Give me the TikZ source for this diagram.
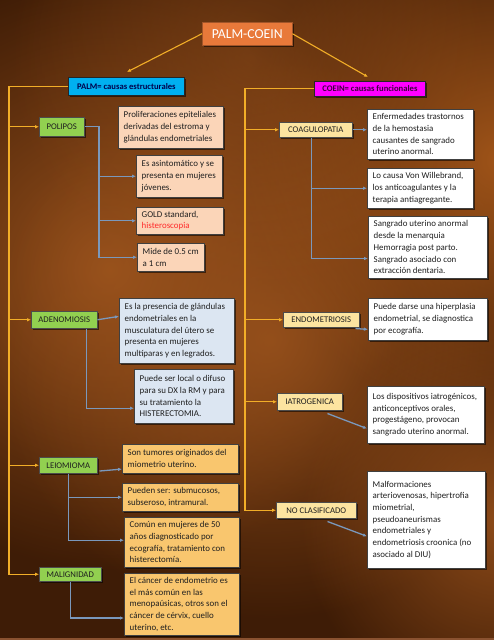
\documentclass[tikz,border=0pt]{standalone}
\usepackage{fontspec}
\setmainfont{Carlito}
\usetikzlibrary{arrows.meta,calc,shadows,fadings}
\definecolor{bgc}{HTML}{3E1C06}
\definecolor{glowc}{HTML}{A0561E}
\definecolor{stripc}{HTML}{8A5230}
\definecolor{ttlc}{HTML}{E8793A}
\definecolor{palmc}{HTML}{00B0F0}
\definecolor{coeinc}{HTML}{FF00FF}
\definecolor{greenc}{HTML}{92D050}
\definecolor{paleyc}{HTML}{FCE4A0}
\definecolor{peachc}{HTML}{FBD5B8}
\definecolor{lbluec}{HTML}{DCE6F2}
\definecolor{goldc}{HTML}{F9C66E}
\definecolor{ylinec}{HTML}{F2AE28}
\definecolor{blinec}{HTML}{7A98BC}
\definecolor{redtx}{HTML}{FF2A2A}
\tikzfading[name=glowfade, inner color=transparent!0, outer color=transparent!100]
% label box: centred single line
\newcommand{\lbx}[7]{%
  \pgfmathsetmacro{\bxw}{#5-#3}%
  \pgfmathsetmacro{\bxh}{#6-#4}%
  \node[#2, anchor=north west, minimum width=\bxw pt, minimum height=\bxh pt] (#1) at (#3,#4) {#7};}
% detail box: box node plus left-aligned text node
\newcommand{\dbx}[7]{%
  \pgfmathsetmacro{\bxw}{#5-#3}%
  \pgfmathsetmacro{\bxh}{#6-#4}%
  \node[det, fill=#2, anchor=north west, minimum width=\bxw pt, minimum height=\bxh pt] (#1) at (#3,#4) {};
  \node[dettxt, anchor=west] (#1t) at ($(#1.west)+(5.5,0)$) {#7};}
\tikzset{
  shad/.style={drop shadow={shadow xshift=1.5pt,shadow yshift=-1.5pt,opacity=0.55,fill=black}},
  ttl/.style={shad, fill=ttlc, text=white, draw=ttlc!70!black, line width=0.4pt, align=center, inner sep=0pt, font=\fontsize{13.7}{15}\selectfont},
  cat/.style={shad, draw=black!85, line width=0.7pt, align=center, inner sep=0pt, font=\bfseries\fontsize{8.6}{9.5}\selectfont},
  lab/.style={shad, draw=black!70, line width=0.5pt, align=center, inner sep=0pt, text=black!88, font=\fontsize{8.7}{10}\selectfont},
  det/.style={shad, draw=black!75, line width=0.5pt, inner sep=0pt},
  dettxt/.style={align=left, inner sep=0pt, text=black!88, font=\fontsize{8.9}{11.7}\selectfont},
  ymain/.style={draw=ylinec, line width=1.1pt, -{Latex[length=4pt,width=3.5pt]}},
  bconn/.style={draw=blinec, line width=1.3pt, -{Latex[length=4pt,width=3.5pt]}},
}
\begin{document}
\begin{tikzpicture}[x=1pt,y=-1pt]
\useasboundingbox (0,0) rectangle (494,640);
% background
\fill[bgc] (0,0) rectangle (494,640);
\begin{scope}
\clip (0,0) rectangle (494,640);
\fill[glowc, path fading=glowfade, opacity=0.9] (110,270) circle (300);
\fill[glowc, path fading=glowfade, opacity=0.8] (270,340) circle (280);
\fill[glowc!90!orange, path fading=glowfade, opacity=0.9] (500,160) circle (260);
\fill[glowc, path fading=glowfade, opacity=0.8] (500,520) circle (200);
\fill[glowc, path fading=glowfade, opacity=0.5] (250,60) circle (240);
\fill[stripc] (0,637.5) rectangle (494,640);
\end{scope}

% title and categories
\lbx{ttl}{ttl}{202}{22}{292}{45}{PALM-COEIN}
\lbx{palm}{cat, fill=palmc, text=blue!30!black}{68}{77}{184}{95}{PALM= causas estructurales}
\lbx{coein}{cat, fill=coeinc, text=violet!50!black}{314}{81}{425}{96}{COEIN= causas funcionales}

% PALM labels
\lbx{pol}{lab, fill=greenc}{39}{117}{84}{136}{POLIPOS}
\lbx{ade}{lab, fill=greenc}{31}{311}{97}{328}{ADENOMIOSIS}
\lbx{leio}{lab, fill=greenc}{39}{457}{97}{473}{LEIOMIOMA}
\lbx{mal}{lab, fill=greenc}{39}{567}{101}{581}{MALIGNIDAD}

% COEIN labels
\lbx{coag}{lab, fill=paleyc}{279}{122}{352}{137}{COAGULOPATIA}
\lbx{endo}{lab, fill=paleyc}{283}{312}{359}{327}{ENDOMETRIOSIS}
\lbx{iatro}{lab, fill=paleyc}{277}{393}{342}{410}{IATROGENICA}
\lbx{nocl}{lab, fill=paleyc}{276}{502}{356}{518}{NO CLASIFICADO}

% PALM details
\dbx{p1}{peachc}{118}{106}{223}{148}{Proliferaciones epiteliales\\derivadas del estroma y\\glándulas endometriales}
\dbx{p2}{peachc}{136}{155}{222}{197}{Es asintomático y se\\presenta en mujeres\\jóvenes.}
\dbx{p3}{peachc}{136}{207}{223}{234}{GOLD standard,\\\textcolor{redtx}{histeroscopia}}
\dbx{p4}{peachc}{137}{243}{204}{271}{Mide de 0.5 cm\\a 1 cm}
\dbx{a1}{lbluec}{119}{298}{234}{363}{Es la presencia de glándulas\\endometriales en la\\musculatura del útero se\\presenta en mujeres\\multíparas y en legrados.}
\dbx{a2}{lbluec}{134}{369}{233}{423}{Puede ser local o difuso\\para su DX la RM y para\\su tratamiento la\\HISTERECTOMIA.}
\dbx{l1}{goldc}{122}{444}{238}{473}{Son tumores originados del\\miometrio uterino.}
\dbx{l2}{goldc}{122}{483}{238}{511}{Pueden ser: submucosos,\\subseroso, intramural.}
\dbx{l3}{goldc}{124}{517}{239}{567}{Común en mujeres de 50\\años diagnosticado por\\ecografía, tratamiento con\\histerectomía.}
\dbx{m1}{goldc}{124}{573}{239}{635}{El cáncer de endometrio es\\el más común en las\\menopaúsicas, otros son el\\cáncer de cérvix, cuello\\uterino, etc.}

% COEIN details
\dbx{c1}{white}{367}{109}{473}{159}{Enfermedades trastornos\\de la hemostasia\\causantes de sangrado\\uterino anormal.}
\dbx{c2}{white}{367}{168}{473}{208}{Lo causa Von Willebrand,\\los anticoagulantes y la\\terapia antiagregante.}
\dbx{c3}{white}{368}{216}{487}{278}{Sangrado uterino anormal\\desde la menarquia\\Hemorragia post parto.\\Sangrado asociado con\\extracción dentaria.}
\dbx{e1}{white}{368}{298}{487}{340}{Puede darse una hiperplasia\\endometrial, se diagnostica\\por ecografía.}
\dbx{i1}{white}{367}{386}{484}{443}{Los dispositivos iatrogénicos,\\anticonceptivos orales,\\progestágeno, provocan\\sangrado uterino anormal.}
\dbx{n1}{white}{367}{471}{485}{568}{Malformaciones\\arteriovenosas, hipertrofia\\miometrial,\\pseudoaneurismas\\endometriales y\\endometriosis croonica (no\\asociado al DIU)}

% title arrows
\coordinate (palmtip) at (127,72);
\coordinate (coeintip) at (368,77);
\draw[ymain] (ttl.west) -- (palmtip);
\draw[ymain] (ttl.east) -- (coeintip);

% left spine
\coordinate (lsp) at (9,85);
\draw[ymain] (palm.west) -| (lsp |- mal.west) -- (mal.west);
\draw[ymain] (lsp |- pol.west) -- (pol.west);
\draw[ymain] (lsp |- ade.west) -- (ade.west);
\draw[ymain] (lsp |- leio.west) -- (leio.west);

% right spine
\coordinate (rsp) at (245,88);
\draw[ymain] (coein.west) -| (rsp |- nocl.west) -- (nocl.west);
\draw[ymain] (rsp |- coag.west) -- (coag.west);
\draw[ymain] (rsp |- endo.west) -- (endo.west);
\draw[ymain] (rsp |- iatro.west) -- (iatro.west);

% polipos connectors
\coordinate (pv) at (99,126);
\draw[bconn] (pol.east) -| (pv |- p4.west) -- (p4.west);
\draw[bconn] (pv |- p2.west) -- (p2.west);
\draw[bconn] (pv |- p3.west) -- (p3.west);

% adenomiosis connectors
\draw[bconn] (ade.east) -- ($(a1.north west)!0.28!(a1.south west)$);
\draw[bconn] ($(ade.south west)!0.83!(ade.south east)$) |- ($(a2.north west)!0.72!(a2.south west)$);

% leiomioma connectors
\draw[bconn] ($(leio.north east)!0.85!(leio.south east)+(2,0)$) -- ($(l1.north west)!0.85!(l1.south west)$);
\draw[bconn] (leio.south) |- ($(l3.north west)!0.46!(l3.south west)$);
\draw[bconn] (leio.south |- l2.west) -- (l2.west);
\draw[bconn] (mal.south) |- ($(m1.north west)!0.72!(m1.south west)$);

% coagulopatia connectors
\draw[bconn] (coag.east) -- (coag.east -| c1.west);
\coordinate (cv) at ($(coag.south west)!0.44!(coag.south east)$);
\draw[bconn] (cv) |- ($(c3.north west)!0.68!(c3.south west)$);
\draw[bconn] (cv |- c2.west) -- (c2.west);

% other COEIN connectors
\draw[bconn] ($(endo.south east)+(-4,1)$) -- ($(e1.north west)!0.74!(e1.south west)$);
\draw[bconn] ($(iatro.south west)!0.77!(iatro.south east)+(0,3)$) -- ($(i1.north west)!0.74!(i1.south west)$);
\draw[bconn] ($(nocl.south west)!0.64!(nocl.south east)+(0,3)$) -- ($(n1.north west)!0.67!(n1.south west)$);
\end{tikzpicture}
\end{document}
